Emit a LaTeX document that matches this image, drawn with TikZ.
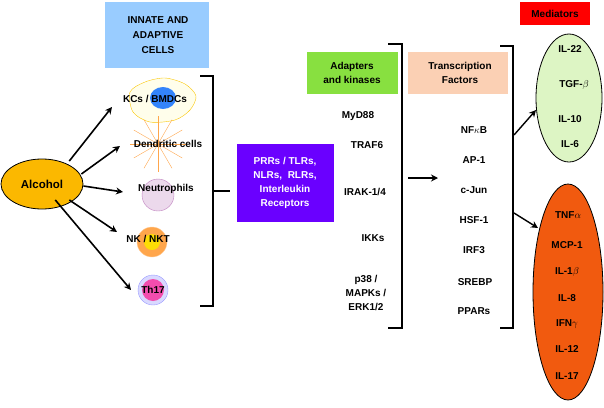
\documentclass[tikz,border=0pt]{standalone}
\usepackage{fontspec}
\setmainfont{Liberation Sans}
\usetikzlibrary{arrows.meta,shapes.geometric}
\definecolor{blu}{HTML}{99CCFF}
\definecolor{pur}{HTML}{6A00FF}
\definecolor{grn}{HTML}{88E040}
\definecolor{pch}{HTML}{FBD0B4}
\definecolor{alc}{HTML}{FBB800}
\definecolor{lg}{HTML}{DDF5C4}
\definecolor{org}{HTML}{F15A0F}
\begin{document}
\begin{tikzpicture}[x=1pt,y=-1pt,
  t/.style={font=\fontsize{10}{12}\selectfont\bfseries,inner sep=0pt,align=center},
  arr/.style={-{Stealth[length=7pt,width=7pt]},line width=1.6pt},
  br/.style={line width=1.4pt},
  box/.style={t,inner sep=0pt}]
\useasboundingbox (0,0) rectangle (604,407);
% header boxes
\fill[blu] (105,2) rectangle (209,68);
\node[t] (innate) at (158,35) {INNATE AND\\[3pt]ADAPTIVE\\[3pt]CELLS};
\fill[grn] (307,52) rectangle (398,94);
\node[t] (adapt) at (352,73) {Adapters\\[2pt]and kinases};
\fill[pch] (408,52) rectangle (508,94);
\node[t] (tf) at (460,73) {Transcription\\[2pt]Factors};
\fill[red] (520,2) rectangle (590,25);
\node[t] (med) at (555,14) {Mediators};
\fill[pur] (237,144) rectangle (334,222);
\node[t,text=white] (prr) at (285,183) {PRRs / TLRs,\\[2pt]NLRs,\ \ RLRs,\\[2pt]Interleukin\\[2pt]Receptors};
% cells (simplified drawings)
\draw[yellow!60!orange,fill=yellow!8] plot[smooth cycle] coordinates {(130,92)(145,82)(165,78)(185,84)(196,96)(190,110)(175,120)(150,122)(133,112)};
\fill[blue!60!cyan,opacity=.8] (163,98) ellipse (13 and 11);
\foreach \a in {0,30,...,330} \draw[orange!70] (158,144) -- ++(\a:28);
\fill[violet!15,draw=violet!50] (158,195) circle (16);
\fill[orange!70,draw=orange!40] (152,242) circle (15);
\fill[yellow!80!orange] (152,242) circle (8);
\fill[blue!15,draw=blue!40] (153,290) circle (15);
\fill[magenta!70] (153,290) circle (11);
\node[t] (kc) at (155,99) {KCs / BMDCs};
\node[t] (dc) at (168,144) {Dendritic cells};
\node[t] (neu) at (166,189) {Neutrophils};
\node[t] (nk) at (148,239) {NK / NKT};
\node[t] (th) at (153,290) {Th17};
% alcohol
\node[t,draw,fill=alc,ellipse,minimum width=82pt,minimum height=50pt,line width=0.8pt,font=\fontsize{11.5}{13}\selectfont\bfseries] (alc) at (42,184) {Alcohol};
\coordinate (ekc) at (112,107);
\coordinate (edc) at (120,146);
\coordinate (eneu) at (123,192);
\coordinate (enk) at (117,232);
\coordinate (eth) at (131,290);
\draw[arr] (alc.north east) ++(-2,-5) -- (ekc);
\draw[arr] (alc.east) ++(-2,-10) -- (edc);
\draw[arr] (alc.east) ++(0,2) -- (eneu);
\draw[arr] (alc.south east) ++(-2,-2) -- (enk);
\draw[arr] (alc.south east) ++(-16,-2) -- (eth);
% bracket 1
\coordinate (b1a) at (200,76);\coordinate (b1b) at (200,306);
\draw[br] (b1a) -- (213,76) -- (213,306) -- (b1b);
\draw[br] (213,191) -- (230,191);
% adapters
\node[t] (myd) at (358,116) {MyD88};
\node[t] (traf) at (367,145) {TRAF6};
\node[t] (irak) at (365,192) {IRAK-1/4};
\node[t] (ikk) at (373,238) {IKKs};
\node[t] (p38) at (366,293) {p38 /\\[2pt]MAPKs /\\[2pt]ERK1/2};
\draw[br] (388,44) -- (402,44) -- (402,328) -- (388,328);
\coordinate (a1) at (408,178);\coordinate (a2) at (438,178);
\draw[-{Stealth[length=7pt,width=7pt]},line width=1.4pt] (a1) -- (a2);
% TFs
\node[t] at (474,130) {NF$\kappa$B};
\node[t] at (474,160) {AP-1};
\node[t] at (474,190) {c-Jun};
\node[t] at (474,220) {HSF-1};
\node[t] at (474,250) {IRF3};
\node[t] at (475,282) {SREBP};
\node[t] at (474,311) {PPARs};
\draw[br] (500,46) -- (513,46) -- (513,328) -- (500,328);
% mediators
\node[draw,fill=lg,ellipse,minimum width=66pt,minimum height=128pt,line width=0.8pt] (g) at (569,98) {};
\node[draw,fill=org,ellipse,minimum width=70pt,minimum height=216pt,line width=0.8pt] (o) at (568,292) {};
\coordinate (s1) at (514,135);\coordinate (s2) at (514,213);
\draw[arr,line width=1.4pt] (s1) -- (536,110);
\draw[arr,line width=1.4pt] (s2) -- (538,228);
\node[t] at (570,49) {IL-22};
\node[t] at (574,85) {TGF-$\beta$};
\node[t] at (570,119) {IL-10};
\node[t] at (570,144) {IL-6};
\node[t] at (568,215) {TNF$\alpha$};
\node[t] at (567,245) {MCP-1};
\node[t] at (567,272) {IL-1$\beta$};
\node[t] at (567,298) {IL-8};
\node[t] at (567,324) {IFN$\gamma$};
\node[t] at (567,349) {IL-12};
\node[t] at (567,376) {IL-17};
\end{tikzpicture}
\end{document}
